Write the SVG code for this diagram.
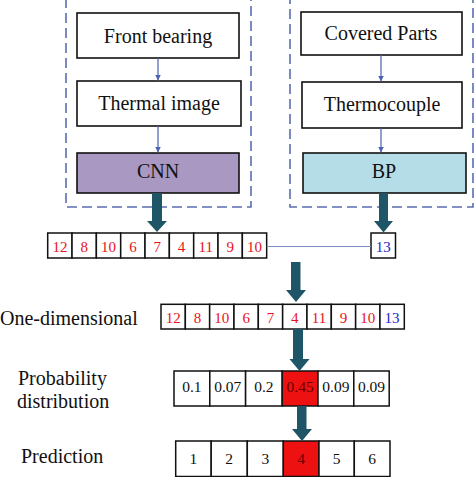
<svg xmlns="http://www.w3.org/2000/svg" width="474" height="477" viewBox="0 0 474 477">
<defs>
<style>
.dash{fill:none;stroke:#5a6db0;stroke-width:1.6;stroke-dasharray:10 5}
.box{fill:#fff;stroke:#111;stroke-width:1.6}
.cell{fill:#fff;stroke:#111;stroke-width:1.5}
.hot{fill:#ee1111;stroke:#111;stroke-width:1.5}
text{font-family:'Liberation Serif','DejaVu Serif',serif}
.t{font-size:20px;fill:#111;text-anchor:middle}
.lab{font-size:20px;fill:#111}
.n{font-size:15px;fill:#e8121a;text-anchor:middle}
.b{fill:#1f1fd0}
.p{font-size:15.5px;fill:#111;text-anchor:middle}
.dk{fill:#6a0000}
.thin{stroke:#4a62b0;stroke-width:1.2;fill:none}
.big{fill:#1e5567}
</style>
<marker id="ah" markerWidth="8" markerHeight="8" refX="6" refY="3" orient="auto" markerUnits="userSpaceOnUse">
<path d="M0,0 L6,3 L0,6 Z" fill="#4a62b0"/>
</marker>
</defs>

<g id="group-left">
<rect class="dash" x="66" y="-4" width="185" height="211"/>
</g>
<g id="group-right">
<rect class="dash" x="290" y="-4" width="183" height="211"/>
</g>

<g id="front-bearing">
<rect class="box" x="77" y="13" width="162" height="45"/>
<text class="t" x="158" y="43">Front bearing</text>
</g>
<g id="thermal-image">
<rect class="box" x="77" y="81" width="164" height="45"/>
<text class="t" x="159" y="110">Thermal image</text>
</g>
<g id="cnn">
<rect x="77" y="153" width="162" height="40" fill="#a898c2" stroke="#111" stroke-width="1.6"/>
<text class="t" x="158" y="178">CNN</text>
</g>
<g id="covered-parts">
<rect class="box" x="301" y="12" width="161" height="43"/>
<text class="t" x="381" y="40">Covered Parts</text>
</g>
<g id="thermocouple">
<rect class="box" x="302" y="82" width="160" height="46"/>
<text class="t" x="382" y="111">Thermocouple</text>
</g>
<g id="bp">
<rect x="303" y="153" width="163" height="40" fill="#b5dde7" stroke="#111" stroke-width="1.6"/>
<text class="t" x="384" y="178">BP</text>
</g>

<g id="cnn-vector">
<rect class="cell" x="47.7" y="233" width="24.33" height="25"/>
<rect class="cell" x="72.03" y="233" width="24.33" height="25"/>
<rect class="cell" x="96.36" y="233" width="24.33" height="25"/>
<rect class="cell" x="120.69" y="233" width="24.33" height="25"/>
<rect class="cell" x="145.02" y="233" width="24.33" height="25"/>
<rect class="cell" x="169.35" y="233" width="24.33" height="25"/>
<rect class="cell" x="193.68" y="233" width="24.33" height="25"/>
<rect class="cell" x="218.01" y="233" width="24.33" height="25"/>
<rect class="cell" x="242.34" y="233" width="24.33" height="25"/>
<text class="n" x="59.9" y="252">12</text>
<text class="n" x="84.2" y="252">8</text>
<text class="n" x="108.5" y="252">10</text>
<text class="n" x="132.9" y="252">6</text>
<text class="n" x="157.2" y="252">7</text>
<text class="n" x="181.5" y="252">4</text>
<text class="n" x="205.8" y="252">11</text>
<text class="n" x="230.2" y="252">9</text>
<text class="n" x="254.5" y="252">10</text>
</g>
<g id="bp-output">
<rect class="cell" x="371" y="233" width="24.5" height="25"/>
<text class="n b" x="383.2" y="252">13</text>
</g>

<g id="one-dimensional">
<text class="lab" x="0" y="325">One-dimensional</text>
<rect class="cell" x="161" y="304.3" width="24.33" height="24.7"/>
<rect class="cell" x="185.33" y="304.3" width="24.33" height="24.7"/>
<rect class="cell" x="209.66" y="304.3" width="24.33" height="24.7"/>
<rect class="cell" x="233.99" y="304.3" width="24.33" height="24.7"/>
<rect class="cell" x="258.32" y="304.3" width="24.33" height="24.7"/>
<rect class="cell" x="282.65" y="304.3" width="24.33" height="24.7"/>
<rect class="cell" x="306.98" y="304.3" width="24.33" height="24.7"/>
<rect class="cell" x="331.31" y="304.3" width="24.33" height="24.7"/>
<rect class="cell" x="355.64" y="304.3" width="24.33" height="24.7"/>
<rect class="cell" x="379.97" y="304.3" width="24.33" height="24.7"/>
<text class="n" x="173.2" y="323">12</text>
<text class="n" x="197.5" y="323">8</text>
<text class="n" x="221.8" y="323">10</text>
<text class="n" x="246.2" y="323">6</text>
<text class="n" x="270.5" y="323">7</text>
<text class="n" x="294.8" y="323">4</text>
<text class="n" x="319.1" y="323">11</text>
<text class="n" x="343.5" y="323">9</text>
<text class="n" x="367.8" y="323">10</text>
<text class="n b" x="392.1" y="323">13</text>
</g>

<g id="probability">
<text class="lab" x="18" y="385">Probability</text>
<text class="lab" x="17" y="408">distribution</text>
<rect class="cell" x="174" y="371" width="35.8" height="35"/>
<rect class="cell" x="209.8" y="371" width="35.8" height="35"/>
<rect class="cell" x="245.6" y="371" width="36.6" height="35"/>
<rect class="hot" x="282.2" y="371" width="35.8" height="35"/>
<rect class="cell" x="318" y="371" width="35.8" height="35"/>
<rect class="cell" x="353.8" y="371" width="35.4" height="35"/>
<text class="p" x="191.9" y="392">0.1</text>
<text class="p" x="227.7" y="392">0.07</text>
<text class="p" x="263.9" y="392">0.2</text>
<text class="p dk" x="300.1" y="392">0.45</text>
<text class="p" x="335.9" y="392">0.09</text>
<text class="p" x="371.5" y="392">0.09</text>
</g>

<g id="prediction">
<text class="lab" x="21" y="463">Prediction</text>
<rect class="cell" x="175.7" y="441" width="35.5" height="35.5"/>
<rect class="cell" x="211.2" y="441" width="36.1" height="35.5"/>
<rect class="cell" x="247.3" y="441" width="36" height="35.5"/>
<rect class="hot" x="283.3" y="441" width="35.7" height="35.5"/>
<rect class="cell" x="319" y="441" width="35.3" height="35.5"/>
<rect class="cell" x="354.3" y="441" width="35.7" height="35.5"/>
<text class="p" x="193.4" y="463.5">1</text>
<text class="p" x="229.2" y="463.5">2</text>
<text class="p" x="265.3" y="463.5">3</text>
<text class="p dk" x="301.2" y="463.5">4</text>
<text class="p" x="336.7" y="463.5">5</text>
<text class="p" x="372.2" y="463.5">6</text>
</g>

<g id="connectors">
<line class="thin" x1="158" y1="58" x2="158" y2="80.5" marker-end="url(#ah)"/>
<line class="thin" x1="158" y1="126" x2="158" y2="152.5" marker-end="url(#ah)"/>
<line class="thin" x1="381" y1="55" x2="381" y2="81.5" marker-end="url(#ah)"/>
<line class="thin" x1="381" y1="128" x2="381" y2="152.5" marker-end="url(#ah)"/>
<line x1="266.7" y1="246.5" x2="371" y2="246.5" stroke="#7a8ec4" stroke-width="1.1"/>
<path class="big" d="M152,193 H162 V221 H167 L157,232 L147,221 H152 Z"/>
<path class="big" d="M379,193 H388 V221 H393 L383.5,232.5 L374,221 H379 Z"/>
<path class="big" d="M291,262 H300.5 V290 H306 L296,302 L286,290 H291 Z"/>
<path class="big" d="M293,329 H303 V359 H309.5 L299.5,371 L289.5,359 H293 Z"/>
<path class="big" d="M297,406 H306.5 V429 H312 L302,441 L292,429 H297 Z"/>
</g>
</svg>
